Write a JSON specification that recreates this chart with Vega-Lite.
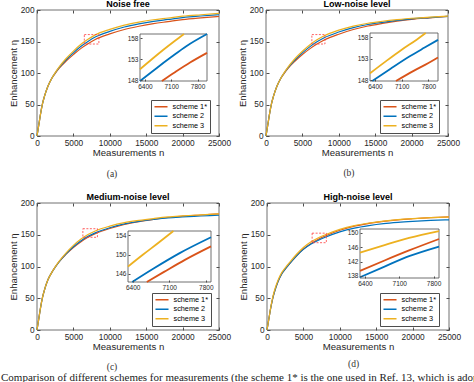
{
"$schema":"https://vega.github.io/schema/vega-lite/v6.json",
"width":474,"height":382,"autosize":"none","padding":0,"background":"white",
"config":{"view":{"stroke":null},
"axis":{"labelFont":"Liberation Sans","titleFont":"Liberation Sans","labelFontSize":8.3,"titleFontSize":9.6,"labelColor":"#262626","titleColor":"#262626","titleFontWeight":"normal","grid":false,"domain":false,"tickColor":"#4d4d4d","tickSize":-3,"labelPadding":6,"labelFlush":false,"labelOverlap":false,"minExtent":0,"titlePadding":2},
"legend":{"labelFont":"Liberation Sans","labelFontSize":7.3,"labelColor":"#000","strokeColor":"#4d4d4d","fillColor":"white","padding":2.5,"rowPadding":0.5,"labelOffset":4,"symbolStrokeWidth":1.5,"symbolSize":170,"clipHeight":8.3,"cornerRadius":0}},
"datasets":{
"panels":[
{"p":"a","title":"Noise free","cap":"(a)","bx0":6500,"bx1":8500,"by0":146,"by1":161,"ix0":6270,"ix1":8050,"iy0":147.8,"iy1":159},
{"p":"b","title":"Low-noise level","cap":"(b)","bx0":6300,"bx1":8100,"by0":146,"by1":161,"ix0":6270,"ix1":8050,"iy0":147.8,"iy1":159},
{"p":"c","title":"Medium-noise level","cap":"(c)","bx0":6300,"bx1":8300,"by0":146,"by1":159.5,"ix0":6310,"ix1":7900,"iy0":144.3,"iy1":154.9,"note":"Comparison of different schemes for measurements (the scheme 1* is the one used in Ref. 13, which is adopted"},
{"p":"d","title":"High-noise level","cap":"(d)","bx0":6200,"bx1":8150,"by0":137.5,"by1":152.5,"ix0":6300,"ix1":7910,"iy0":137.4,"iy1":151.1}
],
"main":[
{"p":"a","s":"scheme 1*","n":0,"e":0},{"p":"a","s":"scheme 1*","n":250,"e":18},{"p":"a","s":"scheme 1*","n":500,"e":36},{"p":"a","s":"scheme 1*","n":750,"e":51},{"p":"a","s":"scheme 1*","n":1000,"e":62},{"p":"a","s":"scheme 1*","n":1500,"e":79},{"p":"a","s":"scheme 1*","n":2000,"e":91},{"p":"a","s":"scheme 1*","n":2500,"e":99.5},{"p":"a","s":"scheme 1*","n":3000,"e":107},{"p":"a","s":"scheme 1*","n":4000,"e":119},{"p":"a","s":"scheme 1*","n":5000,"e":129.2},{"p":"a","s":"scheme 1*","n":6000,"e":138.7},{"p":"a","s":"scheme 1*","n":7000,"e":146.4},{"p":"a","s":"scheme 1*","n":8000,"e":153.2},{"p":"a","s":"scheme 1*","n":10000,"e":162},{"p":"a","s":"scheme 1*","n":12000,"e":169},{"p":"a","s":"scheme 1*","n":14000,"e":174.2},{"p":"a","s":"scheme 1*","n":16000,"e":178.4},{"p":"a","s":"scheme 1*","n":18000,"e":181.6},{"p":"a","s":"scheme 1*","n":20000,"e":184.8},{"p":"a","s":"scheme 1*","n":22500,"e":187.5},{"p":"a","s":"scheme 1*","n":25000,"e":189.7},
{"p":"a","s":"scheme 2","n":0,"e":0},{"p":"a","s":"scheme 2","n":250,"e":18},{"p":"a","s":"scheme 2","n":500,"e":36},{"p":"a","s":"scheme 2","n":750,"e":51},{"p":"a","s":"scheme 2","n":1000,"e":62},{"p":"a","s":"scheme 2","n":1500,"e":79},{"p":"a","s":"scheme 2","n":2000,"e":91},{"p":"a","s":"scheme 2","n":2500,"e":100},{"p":"a","s":"scheme 2","n":3000,"e":108},{"p":"a","s":"scheme 2","n":4000,"e":121},{"p":"a","s":"scheme 2","n":5000,"e":132},{"p":"a","s":"scheme 2","n":6000,"e":142},{"p":"a","s":"scheme 2","n":7000,"e":150},{"p":"a","s":"scheme 2","n":8000,"e":157},{"p":"a","s":"scheme 2","n":10000,"e":166},{"p":"a","s":"scheme 2","n":12000,"e":173},{"p":"a","s":"scheme 2","n":14000,"e":178},{"p":"a","s":"scheme 2","n":16000,"e":182},{"p":"a","s":"scheme 2","n":18000,"e":185},{"p":"a","s":"scheme 2","n":20000,"e":188},{"p":"a","s":"scheme 2","n":22500,"e":190.5},{"p":"a","s":"scheme 2","n":25000,"e":192.5},
{"p":"a","s":"scheme 3","n":0,"e":0},{"p":"a","s":"scheme 3","n":250,"e":18},{"p":"a","s":"scheme 3","n":500,"e":36},{"p":"a","s":"scheme 3","n":750,"e":51},{"p":"a","s":"scheme 3","n":1000,"e":62},{"p":"a","s":"scheme 3","n":1500,"e":79},{"p":"a","s":"scheme 3","n":2000,"e":91},{"p":"a","s":"scheme 3","n":2500,"e":100.5},{"p":"a","s":"scheme 3","n":3000,"e":109},{"p":"a","s":"scheme 3","n":4000,"e":123},{"p":"a","s":"scheme 3","n":5000,"e":134.8},{"p":"a","s":"scheme 3","n":6000,"e":145.2},{"p":"a","s":"scheme 3","n":7000,"e":153.5},{"p":"a","s":"scheme 3","n":8000,"e":160.5},{"p":"a","s":"scheme 3","n":10000,"e":169.2},{"p":"a","s":"scheme 3","n":12000,"e":176},{"p":"a","s":"scheme 3","n":14000,"e":180.7},{"p":"a","s":"scheme 3","n":16000,"e":184.5},{"p":"a","s":"scheme 3","n":18000,"e":187.3},{"p":"a","s":"scheme 3","n":20000,"e":190.2},{"p":"a","s":"scheme 3","n":22500,"e":192.5},{"p":"a","s":"scheme 3","n":25000,"e":194.5},
{"p":"b","s":"scheme 1*","n":0,"e":0},{"p":"b","s":"scheme 1*","n":250,"e":18},{"p":"b","s":"scheme 1*","n":500,"e":36},{"p":"b","s":"scheme 1*","n":750,"e":51},{"p":"b","s":"scheme 1*","n":1000,"e":62},{"p":"b","s":"scheme 1*","n":1500,"e":79},{"p":"b","s":"scheme 1*","n":2000,"e":91},{"p":"b","s":"scheme 1*","n":2500,"e":99.5},{"p":"b","s":"scheme 1*","n":3000,"e":107},{"p":"b","s":"scheme 1*","n":4000,"e":119},{"p":"b","s":"scheme 1*","n":5000,"e":129.3},{"p":"b","s":"scheme 1*","n":6000,"e":138.3},{"p":"b","s":"scheme 1*","n":7000,"e":146},{"p":"b","s":"scheme 1*","n":8000,"e":152.4},{"p":"b","s":"scheme 1*","n":10000,"e":161.6},{"p":"b","s":"scheme 1*","n":12000,"e":169},{"p":"b","s":"scheme 1*","n":14000,"e":174.6},{"p":"b","s":"scheme 1*","n":16000,"e":178.7},{"p":"b","s":"scheme 1*","n":18000,"e":182.3},{"p":"b","s":"scheme 1*","n":20000,"e":185.2},{"p":"b","s":"scheme 1*","n":22500,"e":187.6},{"p":"b","s":"scheme 1*","n":25000,"e":189.8},
{"p":"b","s":"scheme 2","n":0,"e":0},{"p":"b","s":"scheme 2","n":250,"e":18},{"p":"b","s":"scheme 2","n":500,"e":36},{"p":"b","s":"scheme 2","n":750,"e":51},{"p":"b","s":"scheme 2","n":1000,"e":62},{"p":"b","s":"scheme 2","n":1500,"e":79},{"p":"b","s":"scheme 2","n":2000,"e":91},{"p":"b","s":"scheme 2","n":2500,"e":100},{"p":"b","s":"scheme 2","n":3000,"e":108},{"p":"b","s":"scheme 2","n":4000,"e":121},{"p":"b","s":"scheme 2","n":5000,"e":132},{"p":"b","s":"scheme 2","n":6000,"e":141.5},{"p":"b","s":"scheme 2","n":7000,"e":149.5},{"p":"b","s":"scheme 2","n":8000,"e":156},{"p":"b","s":"scheme 2","n":10000,"e":165},{"p":"b","s":"scheme 2","n":12000,"e":172},{"p":"b","s":"scheme 2","n":14000,"e":177},{"p":"b","s":"scheme 2","n":16000,"e":180.5},{"p":"b","s":"scheme 2","n":18000,"e":183.5},{"p":"b","s":"scheme 2","n":20000,"e":186},{"p":"b","s":"scheme 2","n":22500,"e":188},{"p":"b","s":"scheme 2","n":25000,"e":190},
{"p":"b","s":"scheme 3","n":0,"e":0},{"p":"b","s":"scheme 3","n":250,"e":18},{"p":"b","s":"scheme 3","n":500,"e":36},{"p":"b","s":"scheme 3","n":750,"e":51},{"p":"b","s":"scheme 3","n":1000,"e":62},{"p":"b","s":"scheme 3","n":1500,"e":79},{"p":"b","s":"scheme 3","n":2000,"e":91},{"p":"b","s":"scheme 3","n":2500,"e":100.5},{"p":"b","s":"scheme 3","n":3000,"e":109},{"p":"b","s":"scheme 3","n":4000,"e":123},{"p":"b","s":"scheme 3","n":5000,"e":134.5},{"p":"b","s":"scheme 3","n":6000,"e":144.5},{"p":"b","s":"scheme 3","n":7000,"e":152.7},{"p":"b","s":"scheme 3","n":8000,"e":159.2},{"p":"b","s":"scheme 3","n":10000,"e":168},{"p":"b","s":"scheme 3","n":12000,"e":174.5},{"p":"b","s":"scheme 3","n":14000,"e":179},{"p":"b","s":"scheme 3","n":16000,"e":182.1},{"p":"b","s":"scheme 3","n":18000,"e":184.7},{"p":"b","s":"scheme 3","n":20000,"e":186.9},{"p":"b","s":"scheme 3","n":22500,"e":188.6},{"p":"b","s":"scheme 3","n":25000,"e":190.4},
{"p":"c","s":"scheme 1*","n":0,"e":0},{"p":"c","s":"scheme 1*","n":250,"e":18},{"p":"c","s":"scheme 1*","n":500,"e":36},{"p":"c","s":"scheme 1*","n":750,"e":51},{"p":"c","s":"scheme 1*","n":1000,"e":62},{"p":"c","s":"scheme 1*","n":1500,"e":79},{"p":"c","s":"scheme 1*","n":2000,"e":90},{"p":"c","s":"scheme 1*","n":2500,"e":99},{"p":"c","s":"scheme 1*","n":3000,"e":107},{"p":"c","s":"scheme 1*","n":4000,"e":119.5},{"p":"c","s":"scheme 1*","n":5000,"e":130},{"p":"c","s":"scheme 1*","n":6000,"e":138.7},{"p":"c","s":"scheme 1*","n":7000,"e":146},{"p":"c","s":"scheme 1*","n":8000,"e":151.5},{"p":"c","s":"scheme 1*","n":10000,"e":159.8},{"p":"c","s":"scheme 1*","n":12000,"e":166.2},{"p":"c","s":"scheme 1*","n":14000,"e":170.7},{"p":"c","s":"scheme 1*","n":16000,"e":174.2},{"p":"c","s":"scheme 1*","n":18000,"e":177.2},{"p":"c","s":"scheme 1*","n":20000,"e":179.2},{"p":"c","s":"scheme 1*","n":22500,"e":181.1},{"p":"c","s":"scheme 1*","n":25000,"e":183},
{"p":"c","s":"scheme 2","n":0,"e":0},{"p":"c","s":"scheme 2","n":250,"e":18},{"p":"c","s":"scheme 2","n":500,"e":36},{"p":"c","s":"scheme 2","n":750,"e":51},{"p":"c","s":"scheme 2","n":1000,"e":62},{"p":"c","s":"scheme 2","n":1500,"e":79},{"p":"c","s":"scheme 2","n":2000,"e":90},{"p":"c","s":"scheme 2","n":2500,"e":99},{"p":"c","s":"scheme 2","n":3000,"e":107},{"p":"c","s":"scheme 2","n":4000,"e":120},{"p":"c","s":"scheme 2","n":5000,"e":131},{"p":"c","s":"scheme 2","n":6000,"e":140},{"p":"c","s":"scheme 2","n":7000,"e":147.5},{"p":"c","s":"scheme 2","n":8000,"e":153},{"p":"c","s":"scheme 2","n":10000,"e":161},{"p":"c","s":"scheme 2","n":12000,"e":167},{"p":"c","s":"scheme 2","n":14000,"e":171},{"p":"c","s":"scheme 2","n":16000,"e":174},{"p":"c","s":"scheme 2","n":18000,"e":176.5},{"p":"c","s":"scheme 2","n":20000,"e":178},{"p":"c","s":"scheme 2","n":22500,"e":179.5},{"p":"c","s":"scheme 2","n":25000,"e":181},
{"p":"c","s":"scheme 3","n":0,"e":0},{"p":"c","s":"scheme 3","n":250,"e":18},{"p":"c","s":"scheme 3","n":500,"e":36},{"p":"c","s":"scheme 3","n":750,"e":51},{"p":"c","s":"scheme 3","n":1000,"e":62},{"p":"c","s":"scheme 3","n":1500,"e":79},{"p":"c","s":"scheme 3","n":2000,"e":90},{"p":"c","s":"scheme 3","n":2500,"e":99.3},{"p":"c","s":"scheme 3","n":3000,"e":107.7},{"p":"c","s":"scheme 3","n":4000,"e":121.5},{"p":"c","s":"scheme 3","n":5000,"e":133.2},{"p":"c","s":"scheme 3","n":6000,"e":142.8},{"p":"c","s":"scheme 3","n":7000,"e":150.5},{"p":"c","s":"scheme 3","n":8000,"e":156},{"p":"c","s":"scheme 3","n":10000,"e":163.5},{"p":"c","s":"scheme 3","n":12000,"e":169},{"p":"c","s":"scheme 3","n":14000,"e":172.6},{"p":"c","s":"scheme 3","n":16000,"e":175.5},{"p":"c","s":"scheme 3","n":18000,"e":178},{"p":"c","s":"scheme 3","n":20000,"e":179.6},{"p":"c","s":"scheme 3","n":22500,"e":181.3},{"p":"c","s":"scheme 3","n":25000,"e":183},
{"p":"d","s":"scheme 1*","n":0,"e":0},{"p":"d","s":"scheme 1*","n":250,"e":17},{"p":"d","s":"scheme 1*","n":500,"e":34},{"p":"d","s":"scheme 1*","n":750,"e":48},{"p":"d","s":"scheme 1*","n":1000,"e":59},{"p":"d","s":"scheme 1*","n":1500,"e":76},{"p":"d","s":"scheme 1*","n":2000,"e":88},{"p":"d","s":"scheme 1*","n":2500,"e":96},{"p":"d","s":"scheme 1*","n":3000,"e":103},{"p":"d","s":"scheme 1*","n":4000,"e":116},{"p":"d","s":"scheme 1*","n":5000,"e":127.5},{"p":"d","s":"scheme 1*","n":6000,"e":136},{"p":"d","s":"scheme 1*","n":7000,"e":142.5},{"p":"d","s":"scheme 1*","n":8000,"e":148},{"p":"d","s":"scheme 1*","n":10000,"e":157},{"p":"d","s":"scheme 1*","n":12000,"e":163.5},{"p":"d","s":"scheme 1*","n":14000,"e":167.8},{"p":"d","s":"scheme 1*","n":16000,"e":171.1},{"p":"d","s":"scheme 1*","n":18000,"e":173.5},{"p":"d","s":"scheme 1*","n":20000,"e":175.2},{"p":"d","s":"scheme 1*","n":22500,"e":176.9},{"p":"d","s":"scheme 1*","n":25000,"e":178},
{"p":"d","s":"scheme 2","n":0,"e":0},{"p":"d","s":"scheme 2","n":250,"e":17},{"p":"d","s":"scheme 2","n":500,"e":34},{"p":"d","s":"scheme 2","n":750,"e":48},{"p":"d","s":"scheme 2","n":1000,"e":59},{"p":"d","s":"scheme 2","n":1500,"e":76},{"p":"d","s":"scheme 2","n":2000,"e":88},{"p":"d","s":"scheme 2","n":2500,"e":96},{"p":"d","s":"scheme 2","n":3000,"e":103},{"p":"d","s":"scheme 2","n":4000,"e":116},{"p":"d","s":"scheme 2","n":5000,"e":127},{"p":"d","s":"scheme 2","n":6000,"e":135},{"p":"d","s":"scheme 2","n":7000,"e":141},{"p":"d","s":"scheme 2","n":8000,"e":146},{"p":"d","s":"scheme 2","n":10000,"e":154.5},{"p":"d","s":"scheme 2","n":12000,"e":160.5},{"p":"d","s":"scheme 2","n":14000,"e":164.5},{"p":"d","s":"scheme 2","n":16000,"e":167.5},{"p":"d","s":"scheme 2","n":18000,"e":169.5},{"p":"d","s":"scheme 2","n":20000,"e":171},{"p":"d","s":"scheme 2","n":22500,"e":172.5},{"p":"d","s":"scheme 2","n":25000,"e":173.5},
{"p":"d","s":"scheme 3","n":0,"e":0},{"p":"d","s":"scheme 3","n":250,"e":17},{"p":"d","s":"scheme 3","n":500,"e":35},{"p":"d","s":"scheme 3","n":750,"e":49.5},{"p":"d","s":"scheme 3","n":1000,"e":61},{"p":"d","s":"scheme 3","n":1500,"e":78},{"p":"d","s":"scheme 3","n":2000,"e":90},{"p":"d","s":"scheme 3","n":2500,"e":98},{"p":"d","s":"scheme 3","n":3000,"e":105},{"p":"d","s":"scheme 3","n":4000,"e":118.5},{"p":"d","s":"scheme 3","n":5000,"e":130},{"p":"d","s":"scheme 3","n":6000,"e":138.5},{"p":"d","s":"scheme 3","n":7000,"e":145},{"p":"d","s":"scheme 3","n":8000,"e":150},{"p":"d","s":"scheme 3","n":10000,"e":158.5},{"p":"d","s":"scheme 3","n":12000,"e":164.5},{"p":"d","s":"scheme 3","n":14000,"e":168.5},{"p":"d","s":"scheme 3","n":16000,"e":171.5},{"p":"d","s":"scheme 3","n":18000,"e":173.7},{"p":"d","s":"scheme 3","n":20000,"e":175.3},{"p":"d","s":"scheme 3","n":22500,"e":176.9},{"p":"d","s":"scheme 3","n":25000,"e":178}
],
"inset":[
{"p":"a","s":"scheme 1*","n":6850,"e":147.8},{"p":"a","s":"scheme 1*","n":7200,"e":149.9},{"p":"a","s":"scheme 1*","n":7600,"e":152.2},{"p":"a","s":"scheme 1*","n":8050,"e":154.5},
{"p":"a","s":"scheme 2","n":6270,"e":147.8},{"p":"a","s":"scheme 2","n":6700,"e":150.8},{"p":"a","s":"scheme 2","n":7100,"e":153.5},{"p":"a","s":"scheme 2","n":7500,"e":156.1},{"p":"a","s":"scheme 2","n":8050,"e":159},
{"p":"a","s":"scheme 3","n":6270,"e":150.6},{"p":"a","s":"scheme 3","n":6600,"e":153.1},{"p":"a","s":"scheme 3","n":6900,"e":155.3},{"p":"a","s":"scheme 3","n":7200,"e":157.4},{"p":"a","s":"scheme 3","n":7440,"e":159},
{"p":"b","s":"scheme 1*","n":6950,"e":147.8},{"p":"b","s":"scheme 1*","n":7400,"e":150.1},{"p":"b","s":"scheme 1*","n":7800,"e":152.0},{"p":"b","s":"scheme 1*","n":8050,"e":153.3},
{"p":"b","s":"scheme 2","n":6330,"e":147.8},{"p":"b","s":"scheme 2","n":6800,"e":150.6},{"p":"b","s":"scheme 2","n":7300,"e":153.5},{"p":"b","s":"scheme 2","n":7700,"e":155.6},{"p":"b","s":"scheme 2","n":8050,"e":157.4},
{"p":"b","s":"scheme 3","n":6270,"e":149.6},{"p":"b","s":"scheme 3","n":6700,"e":152.5},{"p":"b","s":"scheme 3","n":7100,"e":155.1},{"p":"b","s":"scheme 3","n":7500,"e":157.5},{"p":"b","s":"scheme 3","n":7730,"e":159},
{"p":"c","s":"scheme 1*","n":6670,"e":144.3},{"p":"c","s":"scheme 1*","n":7000,"e":146.4},{"p":"c","s":"scheme 1*","n":7400,"e":148.9},{"p":"c","s":"scheme 1*","n":7900,"e":151.7},
{"p":"c","s":"scheme 2","n":6390,"e":144.3},{"p":"c","s":"scheme 2","n":6800,"e":147.1},{"p":"c","s":"scheme 2","n":7300,"e":150.3},{"p":"c","s":"scheme 2","n":7900,"e":153.6},
{"p":"c","s":"scheme 3","n":6310,"e":147.5},{"p":"c","s":"scheme 3","n":6600,"e":150.0},{"p":"c","s":"scheme 3","n":6900,"e":152.5},{"p":"c","s":"scheme 3","n":7180,"e":154.9},
{"p":"d","s":"scheme 1*","n":6300,"e":139.4},{"p":"d","s":"scheme 1*","n":6800,"e":142.3},{"p":"d","s":"scheme 1*","n":7300,"e":145.1},{"p":"d","s":"scheme 1*","n":7910,"e":148.3},
{"p":"d","s":"scheme 2","n":6300,"e":137.6},{"p":"d","s":"scheme 2","n":6800,"e":140.6},{"p":"d","s":"scheme 2","n":7300,"e":143.5},{"p":"d","s":"scheme 2","n":7910,"e":146.2},
{"p":"d","s":"scheme 3","n":6300,"e":144.5},{"p":"d","s":"scheme 3","n":6800,"e":146.6},{"p":"d","s":"scheme 3","n":7300,"e":148.6},{"p":"d","s":"scheme 3","n":7910,"e":150.5}
]},
"layer":[
{"layer":[
 {"data":{"name":"panels"},"transform":[{"filter":"datum.p==='a'"}],"mark":{"type":"rect","fill":"transparent","stroke":"#4d4d4d","strokeWidth":0.8},"encoding":{
  "x":{"datum":0,"type":"quantitative","scale":{"domain":[0,25000],"range":[37,219],"nice":false,"zero":false},"axis":{"orient":"top","offset":-10,"values":[0,5000,10000,15000,20000,25000],"labels":false,"title":null}},"x2":{"datum":25000},
  "y":{"datum":0,"type":"quantitative","scale":{"domain":[0,200],"range":[136,10],"nice":false,"zero":false},"axis":{"orient":"right","offset":-255,"values":[0,50,100,150,200],"labels":false,"title":null}},"y2":{"datum":200}}},
 {"layer":[
  {"data":{"name":"main"},"transform":[{"filter":"datum.p==='a'"}],"mark":{"type":"line","strokeWidth":1.2,"interpolate":"monotone"},"encoding":{
   "x":{"field":"n","type":"quantitative","scale":{"domain":[0,25000],"range":[37,219],"nice":false,"zero":false},"axis":{"orient":"bottom","offset":-246,"values":[0,5000,10000,15000,20000,25000],"format":"d","title":"Measurements  n","labelPadding":5,"titlePadding":1}},
   "y":{"field":"e","type":"quantitative","scale":{"domain":[0,200],"range":[136,10],"nice":false,"zero":false},"axis":{"orient":"left","offset":-37,"values":[0,50,100,150,200],"format":"d","title":"Enhancement  η"}},
   "color":{"field":"s","type":"nominal","scale":{"domain":["scheme 1*","scheme 2","scheme 3"],"range":["#D95319","#0072BD","#EDB120"]},"legend":{"orient":"none","legendX":151,"legendY":100,"title":null}}}},
  {"data":{"name":"panels"},"transform":[{"filter":"datum.p==='a'"}],"mark":{"type":"rect","fill":"transparent","stroke":"#ff3b3b","strokeWidth":0.8,"strokeDash":[2,1.5]},"encoding":{"x":{"field":"bx0","type":"quantitative"},"x2":{"field":"bx1"},"y":{"field":"by0","type":"quantitative"},"y2":{"field":"by1"}}},
  {"data":{"name":"panels"},"transform":[{"filter":"datum.p==='a'"}],"mark":{"type":"text","font":"Liberation Sans","fontSize":9,"fontWeight":"bold","color":"#000","baseline":"alphabetic"},"encoding":{"x":{"datum":12500,"type":"quantitative"},"y":{"datum":204,"type":"quantitative"},"text":{"field":"title"}}},
  {"data":{"name":"panels"},"transform":[{"filter":"datum.p==='a'"}],"mark":{"type":"text","font":"Liberation Serif","fontSize":9.5,"color":"#333","baseline":"middle"},"encoding":{"x":{"datum":10300,"type":"quantitative"},"y":{"datum":-60,"type":"quantitative"},"text":{"field":"cap"}}}
 ]},
 {"layer":[
  {"data":{"name":"panels"},"transform":[{"filter":"datum.p==='a'"}],"mark":{"type":"rect","fill":"white","stroke":"#4d4d4d","strokeWidth":0.8},"encoding":{
   "x":{"field":"ix0","type":"quantitative","scale":{"domain":[6270,8050],"range":[140,207],"nice":false,"zero":false},"axis":{"orient":"bottom","offset":-301,"values":[6400,7100,7800],"format":"d","title":null,"labelFontSize":6.5,"tickSize":-2,"labelPadding":4,"zindex":1}},"x2":{"field":"ix1"},
   "y":{"field":"iy0","type":"quantitative","scale":{"domain":[147.8,159],"range":[81,34],"nice":false,"zero":false},"axis":{"orient":"left","offset":-140,"values":[148,153,158],"format":"d","title":null,"labelFontSize":6.5,"tickSize":-2,"labelPadding":4,"zindex":1}},"y2":{"field":"iy1"}}},
  {"data":{"name":"inset"},"transform":[{"filter":"datum.p==='a'"}],"mark":{"type":"line","strokeWidth":1.8,"interpolate":"monotone"},"encoding":{
   "x":{"field":"n","type":"quantitative"},
   "y":{"field":"e","type":"quantitative"},
   "color":{"field":"s","type":"nominal"}}}
 ]}
],"resolve":{"scale":{"x":"independent","y":"independent"},"axis":{"x":"independent","y":"independent"}}},

{"layer":[
 {"data":{"name":"panels"},"transform":[{"filter":"datum.p==='b'"}],"mark":{"type":"rect","fill":"transparent","stroke":"#4d4d4d","strokeWidth":0.8},"encoding":{
  "x":{"datum":0,"type":"quantitative","scale":{"domain":[0,25000],"range":[266,448],"nice":false,"zero":false},"axis":{"orient":"top","offset":-10,"values":[0,5000,10000,15000,20000,25000],"labels":false,"title":null}},"x2":{"datum":25000},
  "y":{"datum":0,"type":"quantitative","scale":{"domain":[0,200],"range":[136,10],"nice":false,"zero":false},"axis":{"orient":"right","offset":-26,"values":[0,50,100,150,200],"labels":false,"title":null}},"y2":{"datum":200}}},
 {"layer":[
  {"data":{"name":"main"},"transform":[{"filter":"datum.p==='b'"}],"mark":{"type":"line","strokeWidth":1.2,"interpolate":"monotone"},"encoding":{
   "x":{"field":"n","type":"quantitative","scale":{"domain":[0,25000],"range":[266,448],"nice":false,"zero":false},"axis":{"orient":"bottom","offset":-246,"values":[0,5000,10000,15000,20000,25000],"format":"d","title":"Measurements  n","labelPadding":5,"titlePadding":1}},
   "y":{"field":"e","type":"quantitative","scale":{"domain":[0,200],"range":[136,10],"nice":false,"zero":false},"axis":{"orient":"left","offset":-266,"values":[0,50,100,150,200],"format":"d","title":"Enhancement  η"}},
   "color":{"field":"s","type":"nominal","scale":{"domain":["scheme 1*","scheme 2","scheme 3"],"range":["#D95319","#0072BD","#EDB120"]},"legend":{"orient":"none","legendX":380,"legendY":100,"title":null}}}},
  {"data":{"name":"panels"},"transform":[{"filter":"datum.p==='b'"}],"mark":{"type":"rect","fill":"transparent","stroke":"#ff3b3b","strokeWidth":0.8,"strokeDash":[2,1.5]},"encoding":{"x":{"field":"bx0","type":"quantitative"},"x2":{"field":"bx1"},"y":{"field":"by0","type":"quantitative"},"y2":{"field":"by1"}}},
  {"data":{"name":"panels"},"transform":[{"filter":"datum.p==='b'"}],"mark":{"type":"text","font":"Liberation Sans","fontSize":9,"fontWeight":"bold","color":"#000","baseline":"alphabetic"},"encoding":{"x":{"datum":12500,"type":"quantitative"},"y":{"datum":204,"type":"quantitative"},"text":{"field":"title"}}},
  {"data":{"name":"panels"},"transform":[{"filter":"datum.p==='b'"}],"mark":{"type":"text","font":"Liberation Serif","fontSize":9.5,"color":"#333","baseline":"middle"},"encoding":{"x":{"datum":11400,"type":"quantitative"},"y":{"datum":-58,"type":"quantitative"},"text":{"field":"cap"}}}
 ]},
 {"layer":[
  {"data":{"name":"panels"},"transform":[{"filter":"datum.p==='b'"}],"mark":{"type":"rect","fill":"white","stroke":"#4d4d4d","strokeWidth":0.8},"encoding":{
   "x":{"field":"ix0","type":"quantitative","scale":{"domain":[6270,8050],"range":[370,438],"nice":false,"zero":false},"axis":{"orient":"bottom","offset":-301,"values":[6400,7100,7800],"format":"d","title":null,"labelFontSize":6.5,"tickSize":-2,"labelPadding":4,"zindex":1}},"x2":{"field":"ix1"},
   "y":{"field":"iy0","type":"quantitative","scale":{"domain":[147.8,159],"range":[81,33],"nice":false,"zero":false},"axis":{"orient":"left","offset":-370,"values":[148,153,158],"format":"d","title":null,"labelFontSize":6.5,"tickSize":-2,"labelPadding":4,"zindex":1}},"y2":{"field":"iy1"}}},
  {"data":{"name":"inset"},"transform":[{"filter":"datum.p==='b'"}],"mark":{"type":"line","strokeWidth":1.8,"interpolate":"monotone"},"encoding":{
   "x":{"field":"n","type":"quantitative"},
   "y":{"field":"e","type":"quantitative"},
   "color":{"field":"s","type":"nominal"}}}
 ]}
],"resolve":{"scale":{"x":"independent","y":"independent"},"axis":{"x":"independent","y":"independent"}}},

{"layer":[
 {"data":{"name":"panels"},"transform":[{"filter":"datum.p==='c'"}],"mark":{"type":"rect","fill":"transparent","stroke":"#4d4d4d","strokeWidth":0.8},"encoding":{
  "x":{"datum":0,"type":"quantitative","scale":{"domain":[0,25000],"range":[37,219],"nice":false,"zero":false},"axis":{"orient":"top","offset":-203,"values":[0,5000,10000,15000,20000,25000],"labels":false,"title":null}},"x2":{"datum":25000},
  "y":{"datum":0,"type":"quantitative","scale":{"domain":[0,200],"range":[330,203],"nice":false,"zero":false},"axis":{"orient":"right","offset":-255,"values":[0,50,100,150,200],"labels":false,"title":null}},"y2":{"datum":200}}},
 {"layer":[
  {"data":{"name":"main"},"transform":[{"filter":"datum.p==='c'"}],"mark":{"type":"line","strokeWidth":1.2,"interpolate":"monotone"},"encoding":{
   "x":{"field":"n","type":"quantitative","scale":{"domain":[0,25000],"range":[37,219],"nice":false,"zero":false},"axis":{"orient":"bottom","offset":-52,"values":[0,5000,10000,15000,20000,25000],"format":"d","title":"Measurements  n","labelPadding":5,"titlePadding":1}},
   "y":{"field":"e","type":"quantitative","scale":{"domain":[0,200],"range":[330,203],"nice":false,"zero":false},"axis":{"orient":"left","offset":-37,"values":[0,50,100,150,200],"format":"d","title":"Enhancement  η"}},
   "color":{"field":"s","type":"nominal","scale":{"domain":["scheme 1*","scheme 2","scheme 3"],"range":["#D95319","#0072BD","#EDB120"]},"legend":{"orient":"none","legendX":152,"legendY":293,"title":null}}}},
  {"data":{"name":"panels"},"transform":[{"filter":"datum.p==='c'"}],"mark":{"type":"rect","fill":"transparent","stroke":"#ff3b3b","strokeWidth":0.8,"strokeDash":[2,1.5]},"encoding":{"x":{"field":"bx0","type":"quantitative"},"x2":{"field":"bx1"},"y":{"field":"by0","type":"quantitative"},"y2":{"field":"by1"}}},
  {"data":{"name":"panels"},"transform":[{"filter":"datum.p==='c'"}],"mark":{"type":"text","font":"Liberation Sans","fontSize":9,"fontWeight":"bold","color":"#000","baseline":"alphabetic"},"encoding":{"x":{"datum":12500,"type":"quantitative"},"y":{"datum":204,"type":"quantitative"},"text":{"field":"title"}}},
  {"data":{"name":"panels"},"transform":[{"filter":"datum.p==='c'"}],"mark":{"type":"text","font":"Liberation Serif","fontSize":9.5,"color":"#333","baseline":"middle"},"encoding":{"x":{"datum":10300,"type":"quantitative"},"y":{"datum":-58,"type":"quantitative"},"text":{"field":"cap"}}},
  {"data":{"name":"panels"},"transform":[{"filter":"datum.p==='c'"}],"mark":{"type":"text","font":"Liberation Serif","fontSize":11,"color":"#222","align":"left","baseline":"alphabetic"},"encoding":{"x":{"datum":-4945,"type":"quantitative"},"y":{"datum":-81,"type":"quantitative"},"text":{"field":"note"}}}
 ]},
 {"layer":[
  {"data":{"name":"panels"},"transform":[{"filter":"datum.p==='c'"}],"mark":{"type":"rect","fill":"white","stroke":"#4d4d4d","strokeWidth":0.8},"encoding":{
   "x":{"field":"ix0","type":"quantitative","scale":{"domain":[6310,7900],"range":[128,211],"nice":false,"zero":false},"axis":{"orient":"bottom","offset":-100,"values":[6400,7100,7800],"format":"d","title":null,"labelFontSize":6.5,"tickSize":-2,"labelPadding":4,"zindex":1}},"x2":{"field":"ix1"},
   "y":{"field":"iy0","type":"quantitative","scale":{"domain":[144.3,154.9],"range":[282,231],"nice":false,"zero":false},"axis":{"orient":"left","offset":-128,"values":[146,150,154],"format":"d","title":null,"labelFontSize":6.5,"tickSize":-2,"labelPadding":4,"zindex":1}},"y2":{"field":"iy1"}}},
  {"data":{"name":"inset"},"transform":[{"filter":"datum.p==='c'"}],"mark":{"type":"line","strokeWidth":1.8,"interpolate":"monotone"},"encoding":{
   "x":{"field":"n","type":"quantitative"},
   "y":{"field":"e","type":"quantitative"},
   "color":{"field":"s","type":"nominal"}}}
 ]}
],"resolve":{"scale":{"x":"independent","y":"independent"},"axis":{"x":"independent","y":"independent"}}},

{"layer":[
 {"data":{"name":"panels"},"transform":[{"filter":"datum.p==='d'"}],"mark":{"type":"rect","fill":"transparent","stroke":"#4d4d4d","strokeWidth":0.8},"encoding":{
  "x":{"datum":0,"type":"quantitative","scale":{"domain":[0,25000],"range":[267,449],"nice":false,"zero":false},"axis":{"orient":"top","offset":-203,"values":[0,5000,10000,15000,20000,25000],"labels":false,"title":null}},"x2":{"datum":25000},
  "y":{"datum":0,"type":"quantitative","scale":{"domain":[0,200],"range":[330,203],"nice":false,"zero":false},"axis":{"orient":"right","offset":-25,"values":[0,50,100,150,200],"labels":false,"title":null}},"y2":{"datum":200}}},
 {"layer":[
  {"data":{"name":"main"},"transform":[{"filter":"datum.p==='d'"}],"mark":{"type":"line","strokeWidth":1.2,"interpolate":"monotone"},"encoding":{
   "x":{"field":"n","type":"quantitative","scale":{"domain":[0,25000],"range":[267,449],"nice":false,"zero":false},"axis":{"orient":"bottom","offset":-52,"values":[0,5000,10000,15000,20000,25000],"format":"d","title":"Measurements  n","labelPadding":5,"titlePadding":1}},
   "y":{"field":"e","type":"quantitative","scale":{"domain":[0,200],"range":[330,203],"nice":false,"zero":false},"axis":{"orient":"left","offset":-267,"values":[0,50,100,150,200],"format":"d","title":"Enhancement  η"}},
   "color":{"field":"s","type":"nominal","scale":{"domain":["scheme 1*","scheme 2","scheme 3"],"range":["#D95319","#0072BD","#EDB120"]},"legend":{"orient":"none","legendX":380,"legendY":293,"title":null}}}},
  {"data":{"name":"panels"},"transform":[{"filter":"datum.p==='d'"}],"mark":{"type":"rect","fill":"transparent","stroke":"#ff3b3b","strokeWidth":0.8,"strokeDash":[2,1.5]},"encoding":{"x":{"field":"bx0","type":"quantitative"},"x2":{"field":"bx1"},"y":{"field":"by0","type":"quantitative"},"y2":{"field":"by1"}}},
  {"data":{"name":"panels"},"transform":[{"filter":"datum.p==='d'"}],"mark":{"type":"text","font":"Liberation Sans","fontSize":9,"fontWeight":"bold","color":"#000","baseline":"alphabetic"},"encoding":{"x":{"datum":12500,"type":"quantitative"},"y":{"datum":204,"type":"quantitative"},"text":{"field":"title"}}},
  {"data":{"name":"panels"},"transform":[{"filter":"datum.p==='d'"}],"mark":{"type":"text","font":"Liberation Serif","fontSize":9.5,"color":"#333","baseline":"middle"},"encoding":{"x":{"datum":11900,"type":"quantitative"},"y":{"datum":-53.5,"type":"quantitative"},"text":{"field":"cap"}}}
 ]},
 {"layer":[
  {"data":{"name":"panels"},"transform":[{"filter":"datum.p==='d'"}],"mark":{"type":"rect","fill":"white","stroke":"#4d4d4d","strokeWidth":0.8},"encoding":{
   "x":{"field":"ix0","type":"quantitative","scale":{"domain":[6300,7910],"range":[360,439],"nice":false,"zero":false},"axis":{"orient":"bottom","offset":-104,"values":[6400,7100,7800],"format":"d","title":null,"labelFontSize":6.5,"tickSize":-2,"labelPadding":4,"zindex":1}},"x2":{"field":"ix1"},
   "y":{"field":"iy0","type":"quantitative","scale":{"domain":[137.4,151.1],"range":[278,229],"nice":false,"zero":false},"axis":{"orient":"left","offset":-360,"values":[138,142,146,150],"format":"d","title":null,"labelFontSize":6.5,"tickSize":-2,"labelPadding":4,"zindex":1}},"y2":{"field":"iy1"}}},
  {"data":{"name":"inset"},"transform":[{"filter":"datum.p==='d'"}],"mark":{"type":"line","strokeWidth":1.8,"interpolate":"monotone"},"encoding":{
   "x":{"field":"n","type":"quantitative"},
   "y":{"field":"e","type":"quantitative"},
   "color":{"field":"s","type":"nominal"}}}
 ]}
],"resolve":{"scale":{"x":"independent","y":"independent"},"axis":{"x":"independent","y":"independent"}}}
],
"resolve":{"scale":{"x":"independent","y":"independent","color":"independent"},"axis":{"x":"independent","y":"independent"},"legend":{"color":"independent"}}
}
